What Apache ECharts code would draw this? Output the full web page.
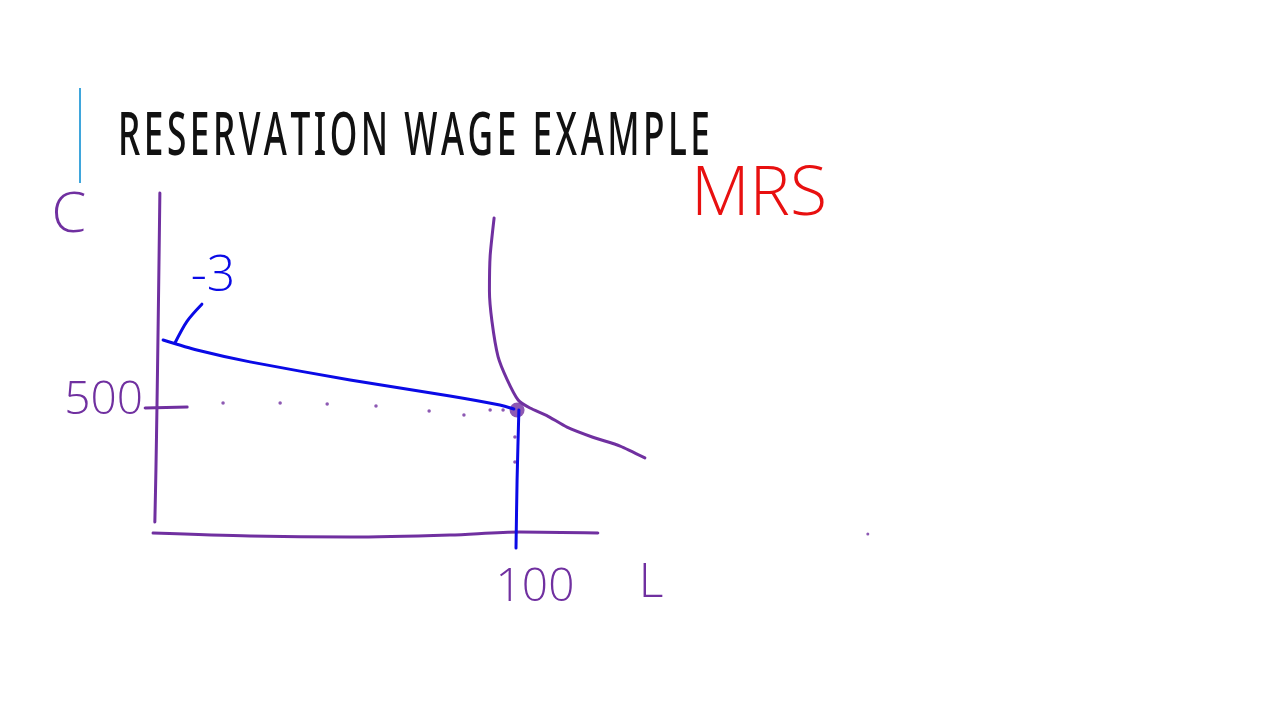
<!DOCTYPE html>
<html>
<head>
<meta charset="utf-8">
<script src="https://cdn.jsdelivr.net/npm/echarts@6/dist/echarts.min.js"></script>
<style>
html,body{margin:0;padding:0;background:#fff;}
#chart{width:1280px;height:720px;}
</style>
</head>
<body>
<div id="chart"></div>
<script>
// Hand-drawn strokes, in data units (L = leisure, C = consumption)
var yAxisStroke = [[0.8,1349],[0.6,1123],[0.3,806],[0,508],[-0.3,250],[-0.6,44]];
var xAxisStroke = [[-1.1,0],[25.9,-12],[53.8,-16],[81.6,-8],[101,4],[122.8,0]];
var tick500 = [[-3.3,496],[8.4,500]];
var budgetLine = [[1.7,766],[11.1,726],[25.9,679],[53.8,607],[81.6,544],[95.5,508],[99.4,492]];
var slopeMark = [[5.0,754],[8.4,841],[12.5,908]];
var indifference = [[93.9,1250],[92.8,1100],[92.6,960],[93.3,840],[95.0,700],[97.5,610],[100.6,528],[103.9,496],[108.6,466],[114.2,420],[121.4,380],[129.0,345],[135.9,298]];
var endowmentDrop = [[100.8,488],[100.3,210],[100,-60]];
var guideDots = [[18.4,516],[34.3,516],[47.4,512],[61.0,504],[75.8,484],[85.5,468],[92.8,488],[96.4,488],[99.7,381],[99.7,282]];
var endowmentPoint = [[100.3,488]];
var strayDot = [[198,-4]];

// Text labels
var titleText = 'RESERVATION WAGE EXAMPLE';
var yTickLabel = '500';
var xTickLabel = '100';
var yAxisName = 'C';
var xAxisName = 'L';
var slopeLabel = '-3';
var mrsLabel = 'MRS';

var PURPLE = '#7030a0';
var BLUE = '#0a0ae6';
var RED = '#e81010';

var chart = echarts.init(document.getElementById('chart'));

function stroke(data, color, width, sm) {
  return {
    type: 'line', data: data, smooth: sm, symbol: 'none', silent: true, clip: false,
    lineStyle: {color: color, width: width, cap: 'round', join: 'round'}
  };
}

var option = {
  backgroundColor: '#ffffff',
  animation: false,
  grid: {left: 13.4, right: 189.6, top: 129.8, bottom: 86.2},
  xAxis: {type: 'value', min: -40, max: 260, show: false},
  yAxis: {type: 'value', min: -400, max: 1600, show: false},
  series: [
    stroke(yAxisStroke, PURPLE, 3, 0.3),
    stroke(xAxisStroke, PURPLE, 3, 0.3),
    stroke(tick500, PURPLE, 3, 0),
    stroke(indifference, PURPLE, 3, 0.2),
    stroke(budgetLine, BLUE, 3, 0.2),
    stroke(slopeMark, BLUE, 3, 0.3),
    stroke(endowmentDrop, BLUE, 3, 0.2),
    {type: 'scatter', data: guideDots, symbolSize: 3.5, silent: true,
     itemStyle: {color: PURPLE}},
    {type: 'scatter', data: endowmentPoint, symbolSize: 15, silent: true,
     itemStyle: {color: PURPLE}},
    {type: 'scatter', data: strayDot, symbolSize: 3, silent: true,
     itemStyle: {color: PURPLE}}
  ]
};
chart.setOption(option);

function px(p) { return chart.convertToPixel({gridIndex: 0}, p); }

var p500 = px([0, 500]);
var p100 = px([100, 0]);

// Title: condensed glyphs with letter spacing, fitted to the reference width
var titleFont = '500 60px "Noto Sans", sans-serif';
var ctx = document.createElement('canvas').getContext('2d');
ctx.font = titleFont;
var chars = titleText.split('');
var letterGap = 3.5;
var rawW = 0;
chars.forEach(function (ch) { rawW += ctx.measureText(ch).width; });
var titleScale = (592 - letterGap * (chars.length - 1)) / rawW;
var titleGraphics = [];
var cx = 118;
chars.forEach(function (ch) {
  var w = ctx.measureText(ch).width * titleScale;
  if (ch !== ' ') {
    titleGraphics.push({type: 'text', x: cx, y: 138, scaleX: titleScale, silent: true,
      style: {text: ch, font: titleFont, fill: '#111111', verticalAlign: 'middle', align: 'left'}});
  }
  cx += w + letterGap;
});

chart.setOption({
  graphic: [
    {type: 'rect', shape: {x: 79, y: 88, width: 2, height: 95}, style: {fill: '#3fa6dc'}, silent: true},
    {type: 'text', x: 69, y: 216, silent: true,
     style: {text: yAxisName, font: '300 56px "Open Sans", sans-serif', fill: PURPLE, align: 'center', verticalAlign: 'middle'}},
    {type: 'text', x: p500[0] - 14, y: p500[1] - 6, silent: true,
     style: {text: yTickLabel, font: '300 46px "Open Sans", sans-serif', fill: PURPLE, align: 'right', verticalAlign: 'middle'}},
    {type: 'text', x: p100[0] + 19, y: 588, silent: true,
     style: {text: xTickLabel, font: '300 46px "Open Sans", sans-serif', fill: PURPLE, align: 'center', verticalAlign: 'middle'}},
    {type: 'text', x: 651, y: 583, silent: true,
     style: {text: xAxisName, font: '300 48px "Open Sans", sans-serif', fill: PURPLE, align: 'center', verticalAlign: 'middle'}},
    {type: 'text', x: 213, y: 277, silent: true,
     style: {text: slopeLabel, font: '300 50px "Open Sans", sans-serif', fill: BLUE, align: 'center', verticalAlign: 'middle'}},
    {type: 'text', x: 759, y: 196, silent: true,
     style: {text: mrsLabel, font: '300 68px "Open Sans", sans-serif', fill: RED, align: 'center', verticalAlign: 'middle'}}
  ].concat(titleGraphics)
});
</script>
</body>
</html>
